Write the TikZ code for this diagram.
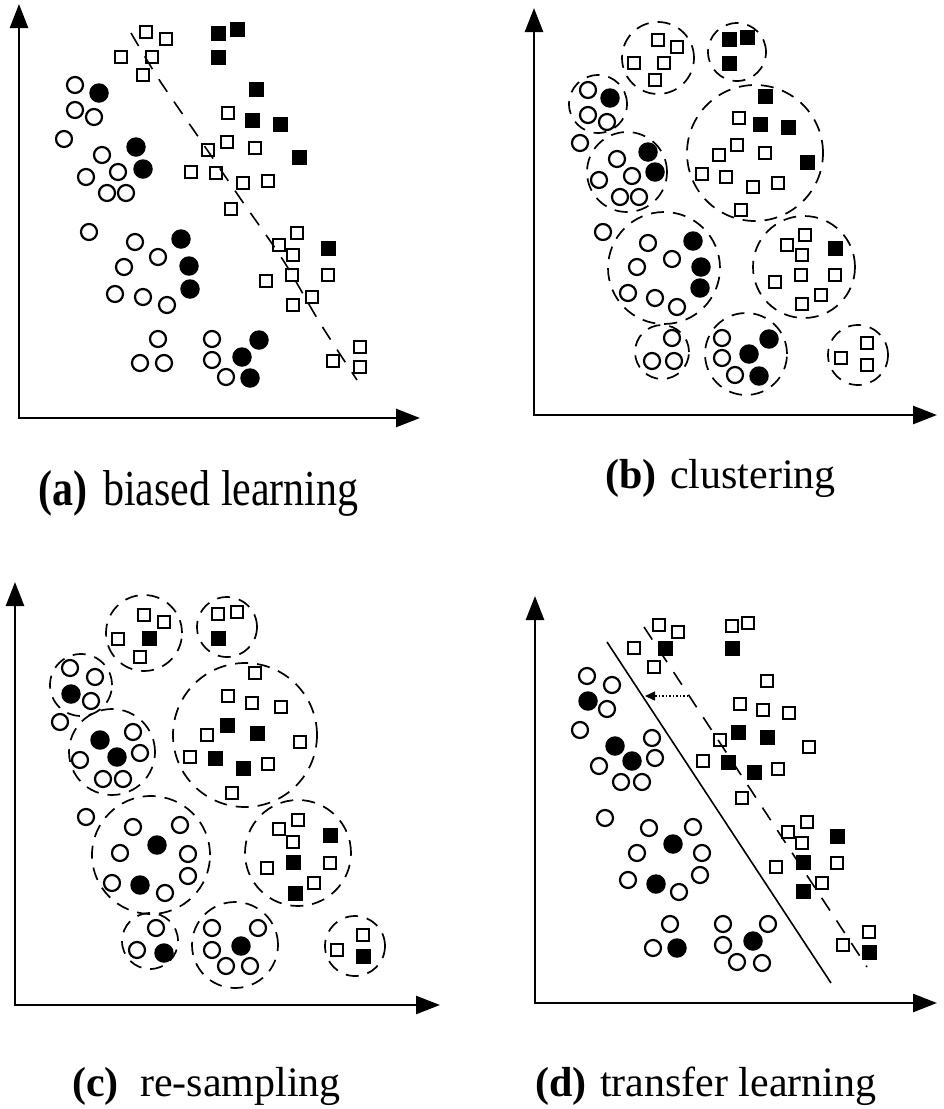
\documentclass[tikz,border=0pt]{standalone}
\usepackage{fontspec}
\setmainfont{Liberation Serif}
\usetikzlibrary{arrows.meta}
\begin{document}
\begin{tikzpicture}[x=1pt,y=-1pt,
 os/.style={rectangle,draw,line width=2.2pt,minimum size=12.5pt,inner sep=0pt},
 fs/.style={rectangle,fill=black,minimum size=15pt,inner sep=0pt},
 oc/.style={circle,draw,line width=2.2pt,minimum size=16pt,inner sep=0pt},
 fc/.style={circle,fill=black,minimum size=19.5pt,inner sep=0pt},
 dcirc/.style={circle,draw,line width=1.7pt,dash pattern=on 13pt off 9pt,inner sep=0pt},
 axis/.style={line width=2.6pt,{Triangle[length=24pt,width=18pt]}-{Triangle[length=24pt,width=18pt]}},
 sepline/.style={line width=1.6pt},
 lab/.style={font=\fontsize{42}{48}\selectfont,inner sep=0pt,anchor=base west}]
\useasboundingbox (0,0) rectangle (944,1109);

% ---------------- panel (a) ----------------
\coordinate (aY) at (19,4);
\coordinate (aO) at (19,418);
\coordinate (aX) at (420,418);
\draw[axis] (aY) -- (aO) -- (aX);
\draw[sepline,dash pattern=on 15pt off 12pt] plot[smooth] coordinates {(131,33) (158,78) (197,135) (240,198) (283,260) (320,323) (357,380)};
\foreach \x/\y [count=\i] in {146/32,166/39,121/57,152/57,143/75,228/113,227/142,255/148,208/150,191/172,216/173,243/183,268/181,231/209,297/233,279/245,293/255,292/275,328/275,266/281,312/297,293/305,360/347,333/361,360/367}
  \node[os] (aos\i) at (\x,\y) {};
\foreach \x/\y [count=\i] in {218/33,237/29,218/57,256/89,252/120,280/124,299/157,328/248}
  \node[fs] (afs\i) at (\x,\y) {};
\foreach \x/\y [count=\i] in {75/85,75/110,94/117,64/139,102/155,118/172,86/177,107/193,126/193,89/232,135/242,158/257,124/267,115/294,143/297,167/305,158/339,212/339,140/363,164/363,212/360,226/377}
  \node[oc] (aoc\i) at (\x,\y) {};
\foreach \x/\y [count=\i] in {99/93,136/147,143/169,181/239,189/266,190/289,259/340,242/357,250/378}
  \node[fc] (afc\i) at (\x,\y) {};
\node[lab] (la1) at (38,505) {\scalebox{1}[1.2]{\textbf{(a)}}};
\node[lab] (la2) at (103,505) {\scalebox{1}[1.2]{biased learning}};

% ---------------- panel (b) ----------------
\coordinate (bY) at (534,8);
\coordinate (bO) at (534,415);
\coordinate (bX) at (937,415);
\draw[axis] (bY) -- (bO) -- (bX);
\foreach \x/\y/\r [count=\i] in {658/58/36,737/52/29,598/104/29,627/172/40,755/153/68,664/268/56,804/267/51,662/352/27,746/354/41,858/355/30}
  \node[dcirc,minimum size={2*\r*1pt}] (bdc\i) at (\x,\y) {};
\foreach \x/\y [count=\i] in {658/40,677/47,634/63,664/63,655/80,739/118,737/145,719/155,765/153,702/174,726/177,753/187,778/183,741/210,805/235,787/245,802/255,801/275,835/275,775/282,821/295,802/304,867/343,841/358,867/365}
  \node[os] (bos\i) at (\x,\y) {};
\foreach \x/\y [count=\i] in {729/39,747/37,729/63,765/96,760/124,788/127,807/162,835/248}
  \node[fs] (bfs\i) at (\x,\y) {};
\foreach \x/\y [count=\i] in {588/90,588/115,607/122,580/143,617/159,632/176,599/180,620/197,639/197,603/232,648/243,672/259,637/267,628/293,655/298,677/307,672/338,722/338,652/361,674/361,722/358,735/375}
  \node[oc] (boc\i) at (\x,\y) {};
\foreach \x/\y [count=\i] in {610/98,648/152,655/172,693/241,701/267,700/288,769/339,749/354,759/376}
  \node[fc] (bfc\i) at (\x,\y) {};
\node[lab] (lb1) at (605,488) {\textbf{(b)}};
\node[lab] (lb2) at (670,488) {clustering};

% ---------------- panel (c) ----------------
\coordinate (cY) at (15,582);
\coordinate (cO) at (15,1005);
\coordinate (cX) at (440,1005);
\draw[axis] (cY) -- (cO) -- (cX);
\foreach \x/\y/\r [count=\i] in {144/633/38,227/627/30,81/685/31,112/752/43,245/735/72,151/855/59,298/853/53,150/941/28,235/945/43,355/946/30}
  \node[dcirc,minimum size={2*\r*1pt}] (cdc\i) at (\x,\y) {};
\foreach \x/\y [count=\i] in {144/615,164/622,118/639,140/657,218/614,237/612,255/673,228/696,252/703,281/707,207/735,300/742,190/757,268/764,232/793,298/820,279/829,293/842,330/863,267/868,314/883,363/935,337/950}
  \node[os] (cos\i) at (\x,\y) {};
\foreach \x/\y [count=\i] in {149/638,218/638,227/725,257/733,215/758,243/768,330/835,293/862,295/893,363/956}
  \node[fs] (cfs\i) at (\x,\y) {};
\foreach \x/\y [count=\i] in {70/668,95/677,91/701,60/722,133/732,140/753,80/760,103/779,123/779,86/817,133/827,180/825,120/853,188/854,112/883,188/876,165/893,156/928,137/950,212/928,258/928,212/950,226/966,250/966}
  \node[oc] (coc\i) at (\x,\y) {};
\foreach \x/\y [count=\i] in {71/694,100/740,117/757,157/845,140/885,164/953,241/946}
  \node[fc] (cfc\i) at (\x,\y) {};
\node[lab] (lc1) at (72,1096) {\textbf{(c)}};
\node[lab] (lc2) at (140,1096) {re-sampling};

% ---------------- panel (d) ----------------
\coordinate (dY) at (535,596);
\coordinate (dO) at (535,1003);
\coordinate (dX) at (937,1003);
\draw[axis] (dY) -- (dO) -- (dX);
\coordinate (dS1) at (607,642);
\coordinate (dS2) at (831,983);
\draw[sepline] (dS1) -- (dS2);
\coordinate (dD1) at (644,627);
\coordinate (dD2) at (867,967);
\draw[sepline,dash pattern=on 15pt off 12pt] (dD1) -- (dD2);
\coordinate (dA1) at (688,696);
\coordinate (dA2) at (645,696);
\draw[line width=1.5pt,dotted,-{Triangle[length=10pt,width=9pt]}] (dA1) -- (dA2);
\foreach \x/\y [count=\i] in {659/625,678/632,634/648,654/667,732/626,748/623,767/681,740/704,763/710,789/713,720/740,809/747,703/761,778/769,742/798,807/822,788/832,802/843,837/863,776/867,822/883,869/932,843/945}
  \node[os] (dos\i) at (\x,\y) {};
\foreach \x/\y [count=\i] in {665/648,732/648,738/732,767/737,728/762,754/772,837/836,803/862,803/891,869/952}
  \node[fs] (dfs\i) at (\x,\y) {};
\foreach \x/\y [count=\i] in {587/676,612/685,607/709,580/730,652/738,655/758,599/766,621/782,642/782,605/818,649/828,693/827,637/853,702/853,628/880,700/875,679/892,670/924,653/948,723/924,768/924,723/945,737/962,762/963}
  \node[oc] (doc\i) at (\x,\y) {};
\foreach \x/\y [count=\i] in {588/701,615/746,632/761,673/844,656/884,677/948,753/941}
  \node[fc] (dfc\i) at (\x,\y) {};
\node[lab] (ld1) at (535,1096) {\textbf{(d)}};
\node[lab] (ld2) at (600,1096) {transfer learning};
\end{tikzpicture}
\end{document}
